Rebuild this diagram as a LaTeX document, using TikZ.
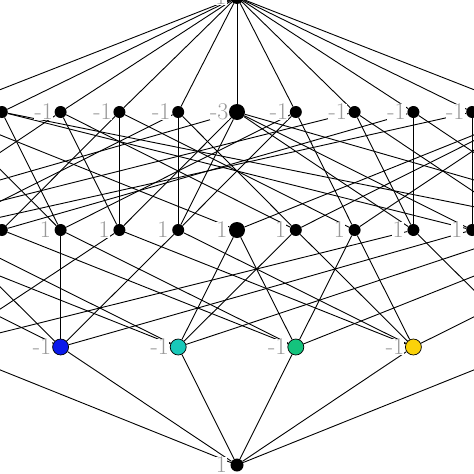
\documentclass[tikz,border=0pt]{standalone}
\usetikzlibrary{backgrounds}
\definecolor{cblue}{RGB}{10,25,235}
\definecolor{cteal}{RGB}{25,200,185}
\definecolor{cgreen}{RGB}{20,195,125}
\definecolor{cyellow}{RGB}{250,210,10}
\begin{document}
\begin{tikzpicture}[x=1pt,y=-1pt,
  edge/.style={line width=0.9pt, black},
  dot/.style={circle, fill=black, inner sep=0pt, minimum size=12pt},
  atom/.style={circle, draw=black, line width=0.7pt, inner sep=0pt, minimum size=16pt, fill=#1},
  lbl/.style={text=black!40, font=\fontsize{24}{24}\selectfont, fill=white, inner sep=0.3pt}]
\useasboundingbox (0,0) rectangle (474,474);
% top and bottom
\node[dot, minimum size=14pt, label={[lbl, label distance=3pt]left:1}] (top) at (237,-3) {};
\node[dot, minimum size=13pt, label={[lbl, label distance=3pt]left:1}] (bot) at (237,465) {};
% rank-3 row
\foreach \n/\i/\lab/\s/\d in {1/-5/-3/12/1, 2/-4/-1/12/1, 3/-3/-1/12/1, 4/-2/-1/12/1, 5/-1/-1/12/1, 6/0/-3/16/0, 7/1/-1/12/1, 8/2/-1/12/1, 9/3/-1/12/1, 10/4/-1/12/1, 11/5/-3/12/1}
  \node[dot, minimum size=\s pt, label={[lbl, label distance=\d pt]left:\lab}] (A\n) at ({237+58.8*\i},112) {};
% rank-2 row
\foreach \n/\i/\s/\d in {1/-7/12/3, 2/-6/12/3, 3/-5/12/3, 4/-4/12/3, 5/-3/12/3, 6/-2/12/3, 7/-1/12/3, 8/0/16/1, 9/1/12/3, 10/2/12/3, 11/3/12/3, 12/4/12/3, 13/5/12/3, 14/6/12/3, 15/7/12/3}
  \node[dot, minimum size=\s pt, label={[lbl, label distance=\d pt]left:1}] (B\n) at ({237+58.8*\i},230) {};
% atoms
\foreach \n/\i/\c in {1/-5/black, 2/-3/cblue, 3/-1/cteal, 4/1/cgreen, 5/3/cyellow, 6/5/black}
  \node[atom=\c, label={[lbl, label distance=0.5pt]left:-1}] (C\n) at ({237+58.8*\i},347) {};
\begin{scope}[on background layer]
\foreach \n in {1,...,11} \draw[edge] (top) -- (A\n);
\foreach \n in {1,...,6} \draw[edge] (bot) -- (C\n);
\foreach \a/\bl in {1/{1,2,3,4,5,8}, 2/{5,12,14}, 3/{2,6,9}, 4/{4,6,10}, 5/{3,7,9}, 6/{1,6,7,11,12,15}, 7/{5,7,10}, 8/{2,11,13}, 9/{4,11,14}, 10/{3,12,13}, 11/{8,9,10,13,14,15}}
  \foreach \b in \bl \draw[edge] (A\a) -- (B\b);
\foreach \b/\cl in {1/{1,2}, 2/{1,3}, 3/{2,3}, 4/{1,4}, 5/{2,4}, 6/{1,5}, 7/{2,5}, 8/{3,4}, 9/{3,5}, 10/{4,5}, 11/{1,6}, 12/{2,6}, 13/{3,6}, 14/{4,6}, 15/{5,6}}
  \foreach \c in \cl \draw[edge] (B\b) -- (C\c);
\end{scope}
\end{tikzpicture}
\end{document}
